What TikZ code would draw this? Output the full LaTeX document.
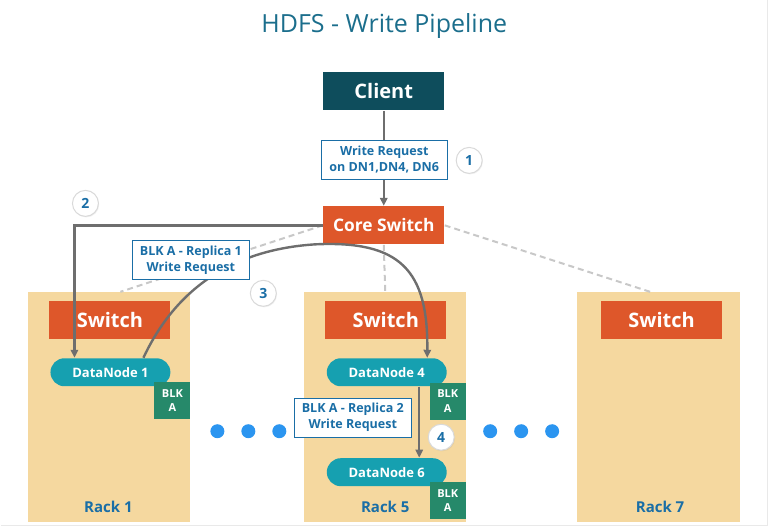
\documentclass[tikz,border=0pt]{standalone}
\usepackage{fontspec}
\setmainfont{Open Sans}
\usepackage{tikz}
\usetikzlibrary{calc,arrows.meta,shadows}
\tikzset{every picture/.style={line width=0.75pt}}

\definecolor{titleblue}{RGB}{27,110,140}
\definecolor{clientteal}{RGB}{14,77,92}
\definecolor{switchorange}{RGB}{222,87,42}
\definecolor{rackfill}{RGB}{245,216,159}
\definecolor{nodeteal}{RGB}{22,160,176}
\definecolor{blkgreen}{RGB}{38,137,106}
\definecolor{labelblue}{RGB}{26,110,166}
\definecolor{pipegray}{RGB}{110,110,110}
\definecolor{linkgray}{RGB}{200,200,200}
\definecolor{dotblue}{RGB}{43,149,240}

\tikzset{
  whitebox/.style={inner sep=0pt, text=white, align=center},
  clientbox/.style={whitebox, fill=clientteal, minimum width=90.75pt, minimum height=28.5pt, font=\fontsize{15}{18}\selectfont\bfseries},
  corebox/.style={whitebox, fill=switchorange, minimum width=90.75pt, minimum height=28.5pt, font=\fontsize{13}{16}\selectfont\bfseries},
  switchbox/.style={whitebox, fill=switchorange, minimum width=90.75pt, minimum height=28.5pt, font=\fontsize{15}{18}\selectfont\bfseries},
  rackbox/.style={inner sep=0pt, fill=rackfill, minimum width=121.5pt, minimum height=172.5pt},
  datanode/.style={whitebox, fill=nodeteal, rounded corners=10.5pt, minimum width=90pt, minimum height=21pt, font=\fontsize{9.75}{12}\selectfont\bfseries},
  blkbox/.style={whitebox, fill=blkgreen, minimum width=27pt, minimum height=27.75pt, font=\fontsize{8.25}{11}\selectfont\bfseries},
  reqbox/.style={inner sep=0pt, draw=labelblue, line width=1pt, fill=white, text=labelblue, align=center, minimum width=87.75pt, minimum height=29.25pt, font=\fontsize{9.4}{12}\selectfont\bfseries},
  racklabel/.style={inner sep=0pt, text=labelblue, font=\fontsize{11.25}{14}\selectfont\bfseries},
  stepnum/.style={circle, inner sep=0pt, draw=linkgray!70, line width=0.75pt, fill=white, text=labelblue, minimum size=19.5pt, drop shadow={opacity=0.12, shadow xshift=0.6pt, shadow yshift=-0.8pt}, font=\fontsize{10.5}{12}\selectfont\bfseries},
  pipearrow/.style={draw=pipegray, line width=1.8pt, -{Triangle[length=6pt,width=5.5pt]}},
  linkdash/.style={draw=linkgray, line width=1.5pt, dash pattern=on 4.5pt off 3pt}
}

\begin{document}
\begin{tikzpicture}[x=0.75pt,y=0.75pt,yscale=-1,xscale=1]
%set diagram size
\path (0,0) rectangle (768,528);
\draw [color=linkgray!40] (767.5,0) -- (767.5,525.5) -- (0,525.5);

%Title
\node [text=titleblue, font=\fontsize{18.75}{22}\selectfont] (title) at (384,26) {HDFS - Write Pipeline};

%Racks
\node [rackbox] (rack1) at (109,407) {};
\node [rackbox] (rack5) at (385,407) {};
\node [rackbox, minimum width=122.25pt] (rack7) at (658.5,407) {};

%Rack switches
\node [switchbox] (sw1) at (109.5,320) {Switch};
\node [switchbox] (sw5) at (385.5,320) {Switch};
\node [switchbox] (sw7) at (661.5,320) {Switch};

%Data nodes
\node [datanode] (dn1) at (110,372) {DataNode 1};
\node [datanode] (dn4) at (386.5,372) {DataNode 4};
\node [datanode] (dn6) at (386.5,472) {DataNode 6};

%Blocks
\node [blkbox] (blk1) at (172,400.5) {BLK\\A};
\node [blkbox] (blk4) at (447.5,401) {BLK\\A};
\node [blkbox] (blk6) at (447.5,500.5) {BLK\\A};

\node [racklabel] (lab1) at (108,507) {Rack 1};
\node [racklabel] (lab5) at (385,507) {Rack 5};
\node [racklabel] (lab7) at (660,507) {Rack 7};

%Client and core switch
\node [clientbox] (client) at (383.5,91) {Client};
\node [corebox] (core) at (383.5,225) {Core Switch};

%Dashed links
\draw [linkdash] (core.west) -- ($(rack1.north)+(11,0)$);
\draw [linkdash] (core.south) -- (rack5.north);
\draw [linkdash] (core.east) -- ($(rack7.north)+(-8.5,0)$);

%Pipeline arrows
\draw [pipearrow] (client) -- (core);
\draw [pipearrow] (core.west) -| ($(dn1.north)+(-36,0)$);
\draw [pipearrow] ($(dn1.north)+(33,0)$) .. controls (170,300) and (220,250) .. (315,244) .. controls (400,240) and (428,270) .. ($(dn4.north)+(40.5,0)$);
\draw [pipearrow] ($(dn4.south)+(32.5,0)$) -- ($(dn6.north)+(32.5,0)$);

%Request labels
\node [reqbox, minimum width=94.5pt] (req) at (384,159.5) {Write Request\\on DN1,DN4, DN6};
\node [reqbox] (rep1) at (190.5,259.5) {BLK A - Replica 1\\Write Request};
\node [reqbox] (rep2) at (352.5,417.5) {BLK A - Replica 2\\Write Request};

%Step numbers
\node [stepnum] (num1) at (469,160) {1};
\node [stepnum] (num2) at (85,203) {2};
\node [stepnum] (num3) at (263,293) {3};
\node [stepnum] (num4) at (441,437) {4};

%Dots
\foreach \x in {217,248,279,490,521,552}
  \fill [dotblue] (\x,431) circle (7);
\end{tikzpicture}
\end{document}
